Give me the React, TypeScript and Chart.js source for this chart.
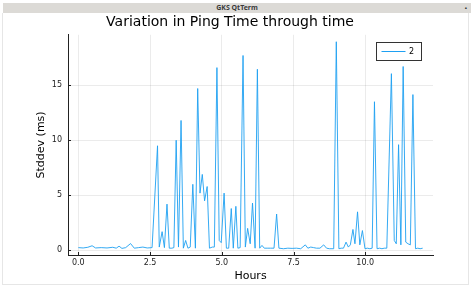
import React, { useEffect, useRef } from "react";
import { Chart, registerables } from "chart.js";

Chart.register(...registerables);

const windowTitle = "GKS QtTerm";
const chartTitle = "Variation in Ping Time through time";
const xTitle = "Hours";
const yTitle = "Stddev (ms)";
const seriesLabel = "2";

const xTicks = [0, 2.5, 5, 7.5, 10];
const yTicks = [0, 5, 10, 15];

const hours = [
  0, 0.17, 0.33, 0.48, 0.6, 0.8, 1.0, 1.2, 1.32, 1.42, 1.52, 1.65, 1.82, 1.95, 2.1, 2.25, 2.4, 2.57,
  2.76, 2.82, 2.92, 3.0, 3.09, 3.17, 3.26, 3.33, 3.41, 3.49,
  3.58, 3.66, 3.74, 3.82, 3.9, 3.99, 4.08, 4.16, 4.24, 4.32,
  4.4, 4.49, 4.57, 4.67, 4.74, 4.83, 4.91, 4.98, 5.08, 5.16,
  5.24, 5.33, 5.4, 5.49, 5.56, 5.64, 5.74, 5.82, 5.9, 5.99,
  6.07, 6.16, 6.24, 6.32, 6.4, 6.48, 6.58, 6.69, 6.82, 6.91,
  6.99, 7.15, 7.3, 7.45, 7.6, 7.75, 7.91, 8.0, 8.1, 8.2,
  8.3, 8.42, 8.55, 8.65, 8.75, 8.9, 8.99, 9.08, 9.16, 9.24,
  9.33, 9.41, 9.48, 9.57, 9.64, 9.73, 9.81, 9.9, 9.99, 10.07,
  10.16, 10.24, 10.32, 10.41, 10.5, 10.58, 10.66, 10.75, 10.91, 11.01,
  11.08, 11.16, 11.24, 11.32, 11.41, 11.49, 11.57, 11.66, 11.75, 11.83,
  11.91, 12.0,
];

const stddev = [
  0.25, 0.22, 0.28, 0.42, 0.22, 0.25, 0.22, 0.28, 0.2, 0.38, 0.18, 0.25, 0.62, 0.2, 0.25, 0.3, 0.22, 0.25,
  9.5, 0.3, 1.7, 0.25, 4.2, 0.2, 0.2, 0.25, 10.0, 0.3,
  11.8, 0.2, 0.9, 0.2, 0.3, 6.0, 0.2, 14.7, 5.2, 6.9,
  4.5, 5.8, 0.2, 0.3, 0.3, 16.6, 0.9, 0.7, 5.2, 0.2,
  0.2, 3.8, 0.2, 4.0, 0.2, 0.25, 17.7, 0.3, 2.0, 0.6,
  4.3, 0.2, 16.45, 0.2, 0.45, 0.2, 0.2, 0.2, 0.2, 3.3,
  0.2, 0.15, 0.2, 0.18, 0.2, 0.15, 0.5, 0.2, 0.3, 0.25,
  0.2, 0.2, 0.5, 0.2, 0.15, 0.15, 18.95, 0.15, 0.2, 0.2,
  0.75, 0.3, 0.5, 1.9, 0.6, 3.5, 0.5, 1.8, 0.15, 0.2,
  0.15, 0.2, 13.5, 0.15, 0.2, 0.15, 0.2, 0.2, 16.05, 0.9,
  0.6, 9.6, 0.5, 16.7, 0.75, 0.6, 0.5, 14.15, 0.15, 0.2,
  0.15, 0.2,
];

const FONT = "'DejaVu Sans', sans-serif";
const LINE_COLOR = "#1EA0F2";

export default function App() {
  const ref = useRef<HTMLCanvasElement>(null);

  useEffect(() => {
    if (!ref.current) return;

    const innerTicks = {
      id: "innerTicks",
      afterDatasetsDraw(chart: any) {
        const { ctx, chartArea, scales } = chart;
        ctx.save();
        ctx.strokeStyle = "#222";
        ctx.lineWidth = 1;
        ctx.beginPath();
        for (const v of xTicks) {
          const px = Math.round(scales.x.getPixelForValue(v)) + 0.5;
          ctx.moveTo(px, chartArea.bottom);
          ctx.lineTo(px, chartArea.bottom - 3);
        }
        for (const v of yTicks) {
          const py = Math.round(scales.y.getPixelForValue(v)) + 0.5;
          ctx.moveTo(chartArea.left, py);
          ctx.lineTo(chartArea.left + 3, py);
        }
        ctx.stroke();
        ctx.restore();
      },
    };

    const boxLegend = {
      id: "boxLegend",
      afterDraw(chart: any) {
        const { ctx, chartArea } = chart;
        const ds = chart.data.datasets[0];
        const w = 45;
        const h = 18;
        const x0 = Math.round(chartArea.right - 12 - w) + 0.5;
        const y0 = Math.round(chartArea.top + 7) + 0.5;
        ctx.save();
        ctx.fillStyle = "#fff";
        ctx.fillRect(x0, y0, w, h);
        ctx.strokeStyle = "#333";
        ctx.lineWidth = 1;
        ctx.strokeRect(x0, y0, w, h);
        ctx.strokeStyle = LINE_COLOR;
        ctx.lineWidth = 1;
        ctx.beginPath();
        ctx.moveTo(x0 + 5, y0 + h / 2);
        ctx.lineTo(x0 + 29, y0 + h / 2);
        ctx.stroke();
        ctx.fillStyle = "#000";
        ctx.font = `8px ${FONT}`;
        ctx.textAlign = "center";
        ctx.textBaseline = "middle";
        ctx.fillText(ds.label, x0 + 35, y0 + h / 2);
        ctx.restore();
      },
    };

    const chart = new Chart(ref.current, {
      type: "line",
      data: {
        datasets: [
          {
            label: seriesLabel,
            data: hours.map((t, i) => ({ x: t, y: stddev[i] })),
            borderColor: LINE_COLOR,
            backgroundColor: LINE_COLOR,
            borderWidth: 0.9,
            pointRadius: 0,
            tension: 0,
            fill: false,
          },
        ],
      },
      options: {
        animation: false,
        responsive: false,
        maintainAspectRatio: false,
        layout: { padding: { top: 0, left: 0, right: 41, bottom: 0 } },
        plugins: {
          legend: { display: false },
          tooltip: { enabled: false },
          title: {
            display: true,
            text: chartTitle,
            color: "#000",
            font: { family: FONT, size: 14, weight: "normal" },
            padding: { top: 0.5, bottom: 4.5 },
          },
        },
        scales: {
          x: {
            type: "linear",
            min: -0.36,
            max: 12.36,
            afterBuildTicks: (scale: any) => {
              scale.ticks = xTicks.map((v) => ({ value: v }));
            },
            afterFit: (scale: any) => {
              scale.height = 33;
            },
            ticks: {
              color: "#222",
              font: { family: FONT, size: 8 },
              padding: 3.5,
              maxRotation: 0,
              autoSkip: false,
              callback: (v: any) => Number(v).toFixed(1),
            },
            grid: { color: "rgba(0,0,0,0.08)", lineWidth: 1, drawTicks: false },
            border: { display: true, color: "#222", width: 1 },
            title: {
              display: true,
              text: xTitle,
              color: "#000",
              font: { family: FONT, size: 11 },
              padding: { top: 0, bottom: 5.2 },
            },
          },
          y: {
            type: "linear",
            min: -0.42,
            max: 19.58,
            afterBuildTicks: (scale: any) => {
              scale.ticks = yTicks.map((v) => ({ value: v }));
            },
            afterFit: (scale: any) => {
              scale.width = 41;
            },
            ticks: {
              color: "#222",
              font: { family: FONT, size: 8 },
              padding: 6,
              autoSkip: false,
              callback: (v: any) => String(v),
            },
            grid: { color: "rgba(0,0,0,0.08)", lineWidth: 1, drawTicks: false },
            border: { display: true, color: "#222", width: 1 },
            title: {
              display: true,
              text: yTitle,
              color: "#000",
              font: { family: FONT, size: 11 },
              padding: { top: 7.4, bottom: 0 },
            },
          },
        },
      },
      plugins: [innerTicks, boxLegend],
    } as any);

    return () => chart.destroy();
  }, []);

  return (
    <div
      style={{
        position: "fixed",
        left: 0,
        top: 0,
        width: 474,
        height: 288,
        background: "#fff",
        overflow: "hidden",
      }}
    >
      <div
        style={{
          position: "absolute",
          left: 3,
          top: 3,
          width: 468,
          height: 10,
          background: "#dcdad6",
          color: "#3a3a3a",
          fontFamily: "'Noto Sans', sans-serif",
          fontWeight: 700,
          fontSize: 7,
          lineHeight: "10px",
          textAlign: "center",
        }}
      >
        {windowTitle}
        <span style={{ position: "absolute", right: 4, top: 0, fontSize: 6 }}>•</span>
      </div>
      <div
        style={{
          position: "absolute",
          left: 2,
          top: 13,
          width: 465,
          height: 271,
          borderLeft: "1px solid #e6e6e6",
          borderRight: "1px solid #e6e6e6",
          borderBottom: "1px solid #e6e6e6",
        }}
      />
      <canvas
        ref={ref}
        width={447}
        height={275}
        style={{ position: "absolute", left: 27, top: 13, width: 447, height: 275 }}
      />
    </div>
  );
}
